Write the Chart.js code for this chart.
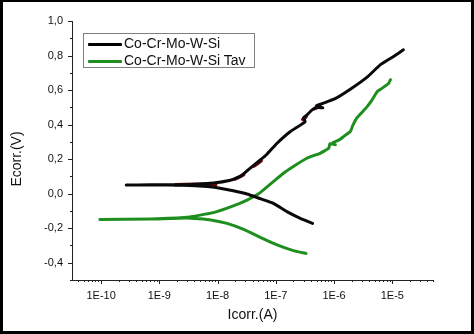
<!DOCTYPE html>
<html>
<head>
<meta charset="utf-8">
<script src="https://cdn.jsdelivr.net/npm/chart.js@4"></script>
<style>
  html, body { margin: 0; padding: 0; background: #fff; }
  #frame {
    position: relative; box-sizing: border-box; width: 474px; height: 334px;
    border-style: solid; border-color: #000; border-width: 2px 3px 3px 3px; background: #fff;
  }
  #wrap { position: absolute; left: 0; top: 0; width: 468px; height: 329px; }
  #legend {
    position: absolute; left: 80px; top: 31px; width: 170px; height: 33px;
    border: 1px solid #808080; background: #fff;
    font-family: "Liberation Sans", Arial, sans-serif; font-size: 14px; color: #111;
  }
  .row { position: absolute; left: 0; height: 17px; line-height: 17px; white-space: nowrap; }
  .sw { position: absolute; left: 4px; width: 34px; height: 3px; border-radius: 1px; }
  .lt { position: absolute; left: 40px; top: 0; }
</style>
</head>
<body>
<div id="frame">
  <div id="wrap"><canvas id="c"></canvas></div>
  <div id="legend">
    <div class="row" style="top:1px;"><div class="sw" style="top:8px;background:#000;"></div><span class="lt">Co-Cr-Mo-W-Si</span></div>
    <div class="row" style="top:18px;"><div class="sw" style="top:8px;background:#1e8e1e;"></div><span class="lt">Co-Cr-Mo-W-Si Tav</span></div>
  </div>
</div>
<script>
// ---- Data (current in A, potential in V) ----
const seriesNames = ["Co-Cr-Mo-W-Si", "Co-Cr-Mo-W-Si Tav"];
const xTitle = "Icorr.(A)";
const yTitle = "Ecorr.(V)";

const blackI = [4.27e-7, 2.63e-7, 1.55e-7, 9.1e-8, 5.4e-8, 3.2e-8, 1.86e-8, 1.1e-8, 6.6e-9, 2.6e-9, 6.9e-10, 2.7e-10,
                6.9e-10, 2.6e-9, 8.5e-9, 1.66e-8, 2.45e-8, 3.6e-8, 5.4e-8, 7.1e-8, 1.05e-7, 1.78e-7, 3.2e-7,
                3.0e-7, 3.4e-7, 4.2e-7, 5.1e-7, 6.4e-7, 5.0e-7, 1.0e-6, 1.9e-6, 3.7e-6, 6.2e-6, 1.05e-5, 1.55e-5];
const blackE = [-0.172, -0.143, -0.104, -0.056, -0.029, -0.002, 0.017, 0.031, 0.041, 0.049, 0.050, 0.050,
                0.051, 0.052, 0.062, 0.078, 0.099, 0.147, 0.195, 0.230, 0.292, 0.360, 0.417,
                0.440, 0.455, 0.485, 0.500, 0.497, 0.510, 0.547, 0.605, 0.675, 0.746, 0.794, 0.833];

const redI = [1.9e-9, 4.0e-9, 7.0e-9, 9.3e-9, null, 2.0e-8, 2.8e-8, null, 4.2e-8, 5.6e-8, null, 2.9e-7, 3.3e-7, null, 4.6e-7, 5.6e-7];
const redE = [0.051, 0.054, 0.055, 0.052, null, 0.085, 0.110, null, 0.160, 0.190, null, 0.430, 0.445, null, 0.492, 0.505];

const greenI = [3.3e-7, 2.0e-7, 1.05e-7, 5.4e-8, 2.8e-8, 1.45e-8, 7.6e-9, 2.95e-9, 7.1e-10, 9.5e-11,
                7.1e-10, 2.95e-9, 8.5e-9, 1.86e-8, 3.2e-8, 5.4e-8, 9.1e-8, 1.35e-7, 2.0e-7, 3.4e-7, 5.75e-7, 8.1e-7,
                8.5e-7, 1.05e-6, 9.5e-7, 1.2e-6, 1.45e-6, 1.9e-6, 2.1e-6, 2.45e-6, 3.0e-6, 3.7e-6, 4.5e-6, 5.5e-6, 6.3e-6, 7.1e-6, 8.7e-6, 9.3e-6];
const greenE = [-0.346, -0.330, -0.297, -0.253, -0.207, -0.172, -0.152, -0.141, -0.147, -0.149,
                -0.146, -0.137, -0.110, -0.071, -0.037, 0.006, 0.070, 0.118, 0.157, 0.205, 0.234, 0.263,
                0.290, 0.283, 0.295, 0.310, 0.330, 0.360, 0.395, 0.437, 0.470, 0.504, 0.543, 0.591, 0.605, 0.617, 0.640, 0.660];

const yMajorTicks = [-0.4, -0.2, 0.0, 0.2, 0.4, 0.6, 0.8, 1.0];
const yMinorTicks = [-0.5, -0.3, -0.1, 0.1, 0.3, 0.5, 0.7, 0.9];
const xDecades = [-10, -9, -8, -7, -6, -5];

function pts(xs, ys) { return xs.map((x, i) => ({ x: x, y: (x === null ? null : ys[i]) })); }

const FONT = '"Liberation Sans", Arial, sans-serif';

const tickPlugin = {
  id: 'ticks',
  afterDraw(chart) {
    const ctx = chart.ctx, xs = chart.scales.x, ys = chart.scales.y;
    const a = chart.chartArea;
    ctx.save();
    ctx.strokeStyle = '#222';
    ctx.lineWidth = 1;
    ctx.beginPath();
    yMajorTicks.forEach(v => { const p = Math.round(ys.getPixelForValue(v)) + 0.5; ctx.moveTo(a.left - 4, p); ctx.lineTo(a.left, p); });
    yMinorTicks.forEach(v => { const p = Math.round(ys.getPixelForValue(v)) + 0.5; ctx.moveTo(a.left - 2, p); ctx.lineTo(a.left, p); });
    const lo = xs.min, hi = xs.max;
    for (let d = -11; d <= -4; d++) {
      for (let m = 1; m <= 9; m++) {
        const v = m * Math.pow(10, d);
        if (v < lo * 0.999 || v > hi * 1.001) continue;
        const p = Math.round(xs.getPixelForValue(v)) + 0.5;
        const len = m === 1 ? 4 : 2;
        ctx.moveTo(p, a.bottom); ctx.lineTo(p, a.bottom + len);
      }
    }
    ctx.stroke();
    // y-axis title (placed slightly below the axis centre, as in the original)
    ctx.fillStyle = '#111';
    ctx.font = '14px ' + FONT;
    ctx.textAlign = 'center';
    ctx.textBaseline = 'middle';
    ctx.translate(ys.left + 14.5, (a.top + a.bottom) / 2 + 8.5);
    ctx.rotate(-Math.PI / 2);
    ctx.fillText(yTitle, 0, 0);
    ctx.restore();
  }
};

new Chart(document.getElementById('c'), {
  type: 'line',
  data: {
    datasets: [
      { label: seriesNames[0], data: pts(blackI, blackE), borderColor: '#0a0a0a', borderWidth: 3 },
      { label: 'overlay', data: pts(redI, redE), borderColor: '#7a0c0c', borderWidth: 3.5, spanGaps: false },
      { label: seriesNames[1], data: pts(greenI, greenE), borderColor: '#1e8e1e', borderWidth: 3 }
    ]
  },
  options: {
    responsive: true, maintainAspectRatio: false, animation: false,
    layout: { padding: { left: 0, top: 19, right: 38, bottom: 0 } },
    elements: {
      point: { radius: 0, hoverRadius: 0 },
      line: { tension: 0.1, borderJoinStyle: 'round', borderCapStyle: 'round', fill: false }
    },
    plugins: { legend: { display: false }, tooltip: { enabled: false } },
    scales: {
      x: {
        type: 'logarithmic', min: 3.16e-11, max: 5e-5,
        afterBuildTicks: s => { s.ticks = xDecades.map(d => ({ value: Math.pow(10, d) })); },
        afterFit: s => { s.height = 51; },
        grid: { display: false, drawTicks: false },
        border: { display: true, color: '#222', width: 1 },
        ticks: {
          autoSkip: false, maxRotation: 0, padding: 9, color: '#111',
          font: { family: FONT, size: 11 },
          callback: v => '1E' + Math.round(Math.log10(v))
        },
        title: { display: true, text: xTitle, color: '#111', font: { family: FONT, size: 14 }, padding: { top: 0, bottom: 7 } }
      },
      y: {
        type: 'linear', min: -0.5, max: 1.0,
        afterBuildTicks: s => { s.ticks = yMajorTicks.map(v => ({ value: v })); },
        afterFit: s => { s.width = 69; },
        grid: { display: false, drawTicks: false },
        border: { display: true, color: '#222', width: 1 },
        ticks: {
          padding: 9, color: '#111', font: { family: FONT, size: 11 },
          callback: v => v.toFixed(1).replace('.', ',')
        },
        title: { display: false }
      }
    }
  },
  plugins: [tickPlugin]
});
</script>
</body>
</html>
